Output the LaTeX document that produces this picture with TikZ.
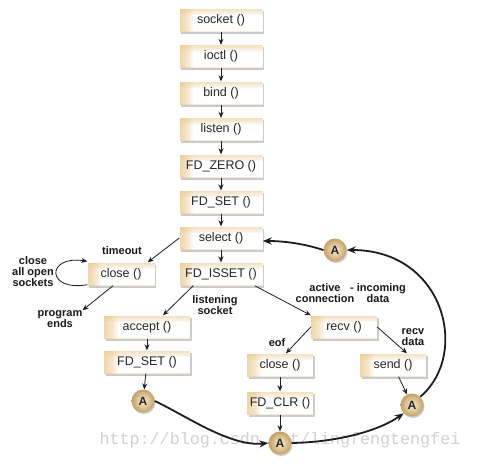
\documentclass[tikz,border=0pt]{standalone}
\usepackage{fontspec}
\setmainfont{Liberation Sans}
\newfontfamily\wmfont{Liberation Mono}
\usetikzlibrary{arrows.meta,shadows,calc}
\definecolor{boxtan}{RGB}{236,200,135}
\definecolor{lnc}{RGB}{30,30,30}
\definecolor{balldark}{RGB}{196,160,100}
\definecolor{balllight}{RGB}{250,240,215}
\tikzset{
 box/.style={minimum width=#1, minimum height=23pt, inner sep=0pt,
  font=\fontsize{12.5}{14}\selectfont, text=black!85, fill=white,
  drop shadow={shadow xshift=1.5pt, shadow yshift=-2pt, fill=black!40, opacity=0.5},
  path picture={
   \foreach \i in {1,...,8}{\fill[boxtan, opacity=0.13] (path picture bounding box.north west) rectangle ([xshift=\i*1.7pt]path picture bounding box.south west);}
   \foreach \i in {1,...,5}{\fill[boxtan, opacity=0.13] (path picture bounding box.north west) rectangle ([yshift=-\i*1.3pt]path picture bounding box.north east);}
   \fill[boxtan, opacity=0.35] (path picture bounding box.south west) rectangle ([yshift=1pt]path picture bounding box.south east);
  }},
 box/.default=83pt,
 ball/.style={circle, minimum size=23pt, inner sep=0pt, shading=radial,
  inner color=balllight, outer color=balldark,
  drop shadow={shadow xshift=1pt, shadow yshift=-1.5pt, fill=black!40, opacity=0.5},
  font=\bfseries\fontsize{12}{12}\selectfont, text=black!85},
 lbl/.style={font=\bfseries\fontsize{11}{11}\selectfont, align=center, inner sep=0pt, text=black!90},
 arr/.style={draw=lnc, line width=0.8pt, -{Stealth[length=6pt,width=5pt]}},
 thk/.style={draw=lnc, line width=1.8pt, -{Stealth[length=9pt,width=7pt]}},
}
\begin{document}
\begin{tikzpicture}[x=1pt,y=-1pt]
\useasboundingbox (0,0) rectangle (504,466);
\fill[white] (0,0) rectangle (504,466);
% watermark
\node[font=\wmfont\fontsize{16.7}{16.7}\selectfont, text=black!18, inner sep=0pt] (wm) at (280,440) {http://blog.csdn.net/lingfengtengfei};
% main column
\node[box] (socket) at (221,20) {socket ()};
\node[box] (ioctl) at (221,56.5) {ioctl ()};
\node[box] (bind) at (221,93) {bind ()};
\node[box] (listen) at (221,129.5) {listen ()};
\node[box] (fdzero) at (221,166) {FD\_ZERO ()};
\node[box] (fdset) at (221,202) {FD\_SET ()};
\node[box] (select) at (221,238) {select ()};
\node[box] (fdisset) at (221,274) {FD\_ISSET ()};
% left
\node[box=67pt] (closeL) at (121,274) {close ()};
\node[box=86pt] (accept) at (147,327) {accept ()};
\node[box=86pt] (fdset2) at (147,362) {FD\_SET ()};
\node[ball] (A1) at (143,401) {A};
% right
\node[box=66pt] (recv) at (344,327) {recv ()};
\node[box=66pt] (closeR) at (280,365) {close ()};
\node[box=66pt] (fdclr) at (280,403) {FD\_CLR ()};
\node[box=66pt] (send) at (393,365) {send ()};
\node[ball] (A2) at (280,443) {A};
\node[ball] (A3) at (412,405) {A};
\node[ball] (A4) at (335,250) {A};
% labels
\node[lbl] (timeout) at (122,251) {timeout};
\node[lbl] (closeall) at (33,272) {close\\all open\\sockets};
\node[lbl] (progends) at (60,319) {program\\ends};
\node[lbl] (listening) at (215,305) {listening\\socket};
\node[lbl] (active) at (325,293) {active\\connection};
\node[lbl] (incoming) at (378,293) {- incoming\\data};
\node[lbl] (eof) at (277,343) {eof};
\node[lbl] (recvdata) at (413,337) {recv\\data};
% chain arrows
\draw[arr] (socket) -- (ioctl);
\draw[arr] (ioctl) -- (bind);
\draw[arr] (bind) -- (listen);
\draw[arr] (listen) -- (fdzero);
\draw[arr] (fdzero) -- (fdset);
\draw[arr] (fdset) -- (select);
\draw[arr] (select) -- (fdisset);
\draw[arr] (select.west) -- ([xshift=-7pt]closeL.north east);
\draw[arr] ([xshift=-8pt]closeL.south) -- (progends.north east);
\draw[arr] ([yshift=1pt]closeL.south west) .. controls (46,292) and (46,255) .. ([yshift=1pt]closeL.north west);
\draw[arr] ([xshift=14pt]fdisset.south west) -- ([xshift=16pt]accept.north);
\draw[arr] ([xshift=-8pt]fdisset.south east) -- (recv.north west);
\draw[arr] (recv.west) -- ([xshift=6pt]closeR.north);
\draw[arr] (recv.east) -- ([xshift=14pt]send.north);
\draw[arr] (accept) -- (fdset2);
\draw[arr] (fdset2) -- (A1);
\draw[arr] (closeR) -- (fdclr);
\draw[arr] (fdclr) -- (A2);
\draw[arr] (send) -- (A3);
% thick loop
\draw[thk] (A1.east) .. controls (185,415) and (230,447) .. (A2.west);
\draw[thk] (A2.east) .. controls (340,442) and (380,430) .. (A3.south west);
\draw[thk] (A3.north east) .. controls (470,355) and (445,250) .. (A4.east);
\draw[thk] (A4.west) .. controls (305,244) and (285,241) .. ([yshift=-3pt]select.east);
\end{tikzpicture}
\end{document}
